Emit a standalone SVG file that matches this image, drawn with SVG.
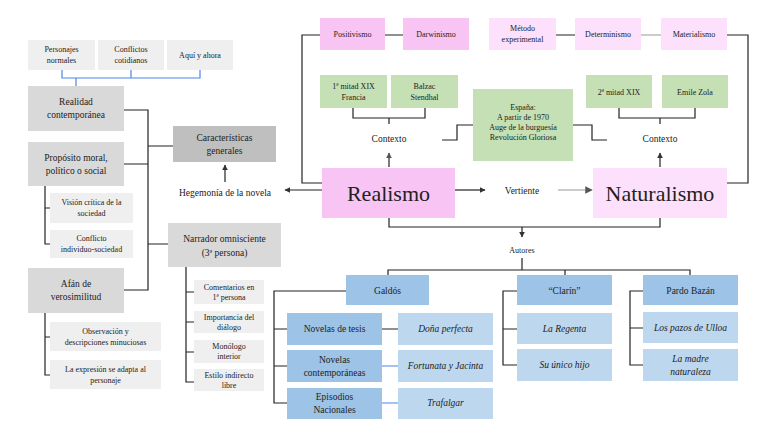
<svg xmlns="http://www.w3.org/2000/svg" width="768" height="433" viewBox="0 0 768 433" font-family="'Liberation Serif', 'DejaVu Serif', 'Times New Roman', serif">
<defs>
<style>
text{font-family:'Liberation Serif','Times New Roman',serif;fill:#222;text-anchor:middle}
.s{font-size:8px}.m{font-size:9.5px}.i{font-style:italic}
.g1{fill:#d9d9d9}.g2{fill:#efefef}.g3{fill:#bfbfbf}
.p1{fill:#f8c4f4}.p2{fill:#fde0fb}.gr{fill:#c5e0b4}
.b1{fill:#9dc3e6}.b2{fill:#bdd7ee}
.c{fill:none;stroke:#222;stroke-width:1.2}
.cb{fill:none;stroke:#4a86e8;stroke-width:1.2}
.cg{fill:none;stroke:#bbb;stroke-width:1.5}
</style>
<marker id="a" viewBox="0 0 10 10" refX="9" refY="5" markerWidth="5" markerHeight="5" orient="auto"><path d="M0,0L10,5L0,10z" fill="#333"/></marker>
<marker id="ag" viewBox="0 0 10 10" refX="9" refY="5" markerWidth="5" markerHeight="5" orient="auto"><path d="M0,0L10,5L0,10z" fill="#555"/></marker>
</defs>
<rect width="768" height="433" fill="#fff"/>
<g id="connectors">
<path class="cb" d="M62,70V78H200V70M131,70V78M76,78V86"/>
<path class="c" d="M124,110H148V290H124M124,164H148M148,146H173M148,244H168"/>
<path class="c" d="M45,186V244H50M45,208H50"/>
<path class="c" d="M45,313V375H50M45,337H50"/>
<path class="c" d="M186,267V382H194M186,292H194M186,322H194M186,352H194"/>
<path class="c" d="M225,182V165" marker-end="url(#a)"/>
<path class="c" d="M322,190H285" marker-end="url(#a)"/>
<path class="c" d="M385,35H403M556,35H575"/>
<path class="cg" d="M641,35H661"/>
<path class="c" d="M320,35H302V183H322M727,35H748V183H727"/>
<path class="c" d="M353,108V118H425V108M389,118V124M619,108V118H695V108M660,118V124"/>
<path class="c" d="M442,140H457V125H473M573,125H592V140H607"/>
<path class="c" d="M389,167V153" marker-end="url(#ag)"/>
<path class="c" d="M660,167V153" marker-end="url(#a)"/>
<path class="c" d="M455,190H485" marker-end="url(#a)"/>
<path class="cg" d="M558,190H592" marker-end="url(#ag)"/>
<path class="c" d="M389,218V227H660V218M522,227V237" marker-end="url(#a)"/>
<path class="c" d="M522,258V270M388,275V270H690V275M565,270V275"/>
<path class="c" d="M346,291H274V403H287M274,329H287M274,366H287M382,329H398"/>
<path class="cb" d="M382,366H398M382,403H398"/>
<path class="c" d="M517,291H503V365H517M503,329H517"/>
<path class="c" d="M643,291H630V365H643M630,328H643"/>
</g>
<g id="personajes"><rect class="g2" x="28" y="40" width="67" height="30"/><text class="s" x="61.5" y="52">Personajes</text><text class="s" x="61.5" y="63">normales</text></g>
<g id="conflictos"><rect class="g2" x="98" y="40" width="66" height="30"/><text class="s" x="131" y="52">Conflictos</text><text class="s" x="131" y="63">cotidianos</text></g>
<g id="aqui"><rect class="g2" x="167" y="40" width="66" height="30"/><text class="s" x="200" y="58">Aquí y ahora</text></g>
<g id="realidad"><rect class="g1" x="28" y="86" width="96" height="45"/><text class="m" x="76" y="105">Realidad</text><text class="m" x="76" y="118">contemporánea</text></g>
<g id="proposito"><rect class="g1" x="28" y="142" width="96" height="44"/><text class="m" x="76" y="161">Propósito moral,</text><text class="m" x="76" y="174">político o social</text></g>
<g id="vision"><rect class="g2" x="50" y="193" width="83" height="30"/><text class="s" x="91.5" y="205">Visión crítica de la</text><text class="s" x="91.5" y="216">sociedad</text></g>
<g id="conflicto"><rect class="g2" x="50" y="230" width="83" height="28"/><text class="s" x="91.5" y="241">Conflicto</text><text class="s" x="91.5" y="252">individuo-sociedad</text></g>
<g id="afan"><rect class="g1" x="28" y="268" width="96" height="45"/><text class="m" x="76" y="287">Afán de</text><text class="m" x="76" y="300">verosimilitud</text></g>
<g id="observacion"><rect class="g2" x="50" y="322" width="111" height="29"/><text class="s" x="105.5" y="334">Observación y</text><text class="s" x="105.5" y="345">descripciones minuciosas</text></g>
<g id="expresion"><rect class="g2" x="50" y="360" width="111" height="29"/><text class="s" x="105.5" y="372">La expresión se adapta al</text><text class="s" x="105.5" y="383">personaje</text></g>
<g id="caracteristicas"><rect class="g3" x="173" y="126" width="103" height="36"/><text class="m" x="224.5" y="141">Características</text><text class="m" x="224.5" y="154">generales</text></g>
<g id="hegemonia"><text class="m" x="225" y="196">Hegemonía de la novela</text></g>
<g id="narrador"><rect class="g1" x="168" y="223" width="113" height="44"/><text class="m" x="224.5" y="242">Narrador omnisciente</text><text class="m" x="224.5" y="256">(3ª persona)</text></g>
<g id="comentarios"><rect class="g2" x="194" y="280" width="70" height="24"/><text class="s" x="229" y="290">Comentarios en</text><text class="s" x="229" y="300">1ª persona</text></g>
<g id="importancia"><rect class="g2" x="194" y="311" width="70" height="22"/><text class="s" x="229" y="320">Importancia del</text><text class="s" x="229" y="330">diálogo</text></g>
<g id="monologo"><rect class="g2" x="194" y="340" width="70" height="23"/><text class="s" x="229" y="349">Monólogo</text><text class="s" x="229" y="359">interior</text></g>
<g id="estilo"><rect class="g2" x="194" y="369" width="70" height="22"/><text class="s" x="229" y="378">Estilo indirecto</text><text class="s" x="229" y="388">libre</text></g>
<g id="positivismo"><rect class="p1" x="320" y="18" width="65" height="32"/><text class="s" x="352.5" y="37">Positivismo</text></g>
<g id="darwinismo"><rect class="p1" x="403" y="18" width="66" height="32"/><text class="s" x="436" y="37">Darwinismo</text></g>
<g id="metodo"><rect class="p2" x="489" y="18" width="67" height="32"/><text class="s" x="522.5" y="31">Método</text><text class="s" x="522.5" y="42">experimental</text></g>
<g id="determinismo"><rect class="p2" x="575" y="18" width="66" height="32"/><text class="s" x="608" y="37">Determinismo</text></g>
<g id="materialismo"><rect class="p2" x="661" y="18" width="66" height="32"/><text class="s" x="694" y="37">Materialismo</text></g>
<g id="mitad1"><rect class="gr" x="320" y="75" width="67" height="33"/><text class="s" x="353.5" y="89">1ª mitad XIX</text><text class="s" x="353.5" y="100">Francia</text></g>
<g id="balzac"><rect class="gr" x="391" y="75" width="67" height="33"/><text class="s" x="424.5" y="89">Balzac</text><text class="s" x="424.5" y="100">Stendhal</text></g>
<g id="contexto1"><text class="m" x="389" y="142">Contexto</text></g>
<g id="espana"><rect class="gr" x="473" y="89" width="100" height="72"/><text class="s" x="523" y="110">España:</text><text class="s" x="523" y="120">A partir de 1970</text><text class="s" x="523" y="130">Auge de la burguesía</text><text class="s" x="523" y="140">Revolución Gloriosa</text></g>
<g id="mitad2"><rect class="gr" x="586" y="75" width="66" height="33"/><text class="s" x="619" y="95">2ª mitad XIX</text></g>
<g id="zola"><rect class="gr" x="662" y="75" width="66" height="33"/><text class="s" x="695" y="95">Emile Zola</text></g>
<g id="contexto2"><text class="m" x="660" y="142">Contexto</text></g>
<g id="realismo"><rect class="p1" x="322" y="168" width="133" height="50"/><text x="388.5" y="201" style="font-size:22px">Realismo</text></g>
<g id="vertiente"><text class="m" x="522" y="194">Vertiente</text></g>
<g id="naturalismo"><rect class="p2" x="593" y="168" width="134" height="50"/><text x="660" y="201" style="font-size:22px">Naturalismo</text></g>
<g id="autores"><text class="s" x="522" y="253">Autores</text></g>
<g id="galdos"><rect class="b1" x="346" y="275" width="83" height="30"/><text class="m" x="387.5" y="294">Galdós</text></g>
<g id="clarin"><rect class="b1" x="517" y="275" width="95" height="30"/><text class="m" x="564.5" y="294">“Clarín”</text></g>
<g id="pardo"><rect class="b1" x="643" y="275" width="95" height="30"/><text class="m" x="690.5" y="294">Pardo Bazán</text></g>
<g id="tesis"><rect class="b1" x="287" y="313" width="95" height="32"/><text class="m" x="334.5" y="332">Novelas de tesis</text></g>
<g id="dona"><rect class="b2" x="398" y="313" width="95" height="32"/><text class="m i" x="445.5" y="332">Doña perfecta</text></g>
<g id="contemporaneas"><rect class="b1" x="287" y="350" width="95" height="32"/><text class="m" x="334.5" y="363">Novelas</text><text class="m" x="334.5" y="376">contemporáneas</text></g>
<g id="fortunata"><rect class="b2" x="398" y="350" width="95" height="32"/><text class="m i" x="445.5" y="369">Fortunata y Jacinta</text></g>
<g id="episodios"><rect class="b1" x="287" y="388" width="95" height="31"/><text class="m" x="334.5" y="400">Episodios</text><text class="m" x="334.5" y="413">Nacionales</text></g>
<g id="trafalgar"><rect class="b2" x="398" y="388" width="95" height="31"/><text class="m i" x="445.5" y="406">Trafalgar</text></g>
<g id="regenta"><rect class="b2" x="517" y="313" width="95" height="31"/><text class="m i" x="564.5" y="332">La Regenta</text></g>
<g id="unico"><rect class="b2" x="517" y="349" width="95" height="32"/><text class="m i" x="564.5" y="368">Su único hijo</text></g>
<g id="pazos"><rect class="b2" x="643" y="312" width="95" height="31"/><text class="m i" x="690.5" y="331">Los pazos de Ulloa</text></g>
<g id="madre"><rect class="b2" x="643" y="349" width="95" height="32"/><text class="m i" x="690.5" y="362">La madre</text><text class="m i" x="690.5" y="375">naturaleza</text></g>
</svg>
